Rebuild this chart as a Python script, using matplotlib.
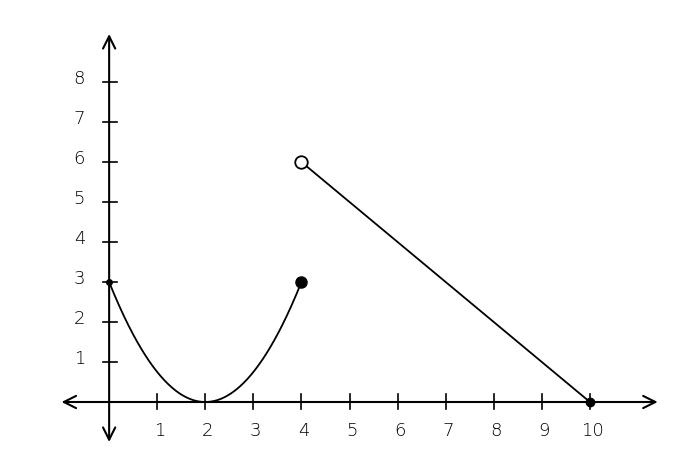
import matplotlib.pyplot as plt
import numpy as np

# piecewise function: parabola on [0, 4], line from (4, 6) to (10, 0)
a, b, c = 0.75, -3, 3          # y = 0.75x^2 - 3x + 3
parab_x = (0, 4)
line_x = [4, 10]
line_y = [6, 0]
closed_pts = [(0, 3), (4, 3), (10, 0)]
closed_sizes = [4, 8, 6]
open_pts = [(4, 6)]

x_ticks = list(range(1, 11))
y_ticks = list(range(1, 9))

fig = plt.figure(figsize=(7, 4.66), dpi=100)
ax = fig.add_axes([0, 0, 1, 1])
ax.set_xlim(-2.27, 12.29)
ax.set_ylim(-1.6, 10.05)
ax.axis("off")

ink = "black"
arrow = dict(arrowstyle="->", color=ink, lw=1.5, mutation_scale=22, shrinkA=0, shrinkB=0)
# axes with arrow heads on both ends
ax.annotate("", xy=(11.41, 0), xytext=(0, 0), arrowprops=arrow)
ax.annotate("", xy=(-0.99, 0), xytext=(0, 0), arrowprops=arrow)
ax.annotate("", xy=(0, 9.2), xytext=(0, 0), arrowprops=arrow)
ax.annotate("", xy=(0, -1.0), xytext=(0, 0), arrowprops=arrow)

for t in x_ticks:
    ax.plot([t, t], [-0.17, 0.2], color=ink, lw=1.2)
    ax.text(t + 0.05, -0.72, str(t), ha="center", va="center", fontsize=13,
            family="DejaVu Sans", fontweight="light")
for t in y_ticks:
    ax.plot([-0.12, 0.17], [t, t], color=ink, lw=1.2)
    ax.text(-0.62, t + 0.08, str(t), ha="center", va="center", fontsize=13,
            family="DejaVu Sans", fontweight="light")

xs = np.linspace(parab_x[0], parab_x[1], 200)
ax.plot(xs, a * xs**2 + b * xs + c, color=ink, lw=1.3)
ax.plot(line_x, line_y, color=ink, lw=1.3)

for (px, py), s in zip(closed_pts, closed_sizes):
    ax.plot(px, py, "o", color=ink, markersize=s)
for px, py in open_pts:
    ax.plot(px, py, "o", markerfacecolor="white", markeredgecolor=ink,
            markersize=9, markeredgewidth=1.3)

fig.savefig("out.png", dpi=100, facecolor="white")
